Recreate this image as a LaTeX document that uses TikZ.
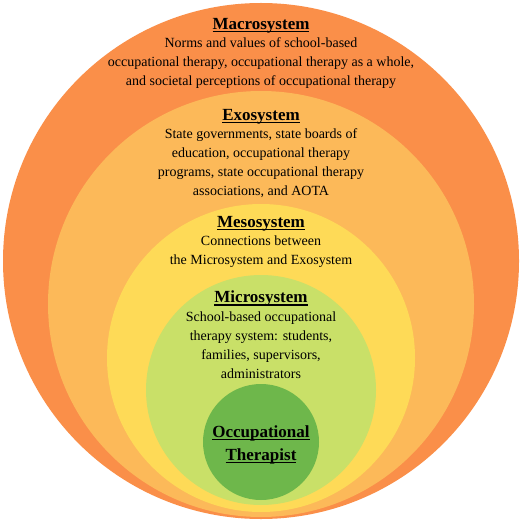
\documentclass[tikz,border=0pt]{standalone}
\usepackage{fontspec}
\setmainfont{Liberation Serif}
\newcommand\ulhead[1]{\setbox0\hbox{#1}\rlap{\rule[-3pt]{\wd0}{1.1pt}}\box0}
\definecolor{macroOrange}{RGB}{250,143,73}
\definecolor{exoOrange}{RGB}{252,185,89}
\definecolor{mesoYellow}{RGB}{254,218,87}
\definecolor{microGreen}{RGB}{201,224,104}
\definecolor{therapistGreen}{RGB}{110,183,75}
\tikzset{
  head/.style={font=\fontsize{17}{23}\selectfont\bfseries, align=center, inner sep=0pt},
  body/.style={font=\fontsize{14}{19}\selectfont, align=center, inner sep=0pt},
}
\begin{document}
\begin{tikzpicture}[x=1pt,y=-1pt]
      \useasboundingbox (0,0) rectangle (520,521);
      \fill[macroOrange] (261,261) circle[radius=258pt]; % macro
      \fill[exoOrange] (261,304) circle[radius=213pt]; % exo
      \fill[mesoYellow] (261,358) circle[radius=154pt]; % meso
      \fill[microGreen] (261,390) circle[radius=115pt]; % micro
      \fill[therapistGreen] (261,442) circle[radius=58pt]; % therapist

      \node[head] (macroHead) at (261,25.5) {\ulhead{Macrosystem}};
      \node[body] (macroText) at (261,63.5) {Norms and values of school-based\\occupational therapy, occupational therapy as a whole,\\and societal perceptions of occupational therapy};
      \node[head] (exoHead) at (261,116.5) {\ulhead{Exosystem}};
      \node[body] (exoText) at (261,163.5) {State governments, state boards of\\education, occupational therapy\\programs, state occupational therapy\\associations, and AOTA};
      \node[head] (mesoHead) at (261,223.5) {\ulhead{Mesosystem}};
      \node[body] (mesoText) at (261,251.5) {Connections between\\the Microsystem and Exosystem};
      \node[head] (microHead) at (261,298.5) {\ulhead{Microsystem}};
      \node[body] (microText) at (261,345.5) {School-based occupational\\therapy system: students,\\families, supervisors,\\administrators};
      \node[head] (therapist) at (261,444.5) {\ulhead{Occupational}\\\ulhead{Therapist}}; % centre

    \end{tikzpicture}
\end{document}
